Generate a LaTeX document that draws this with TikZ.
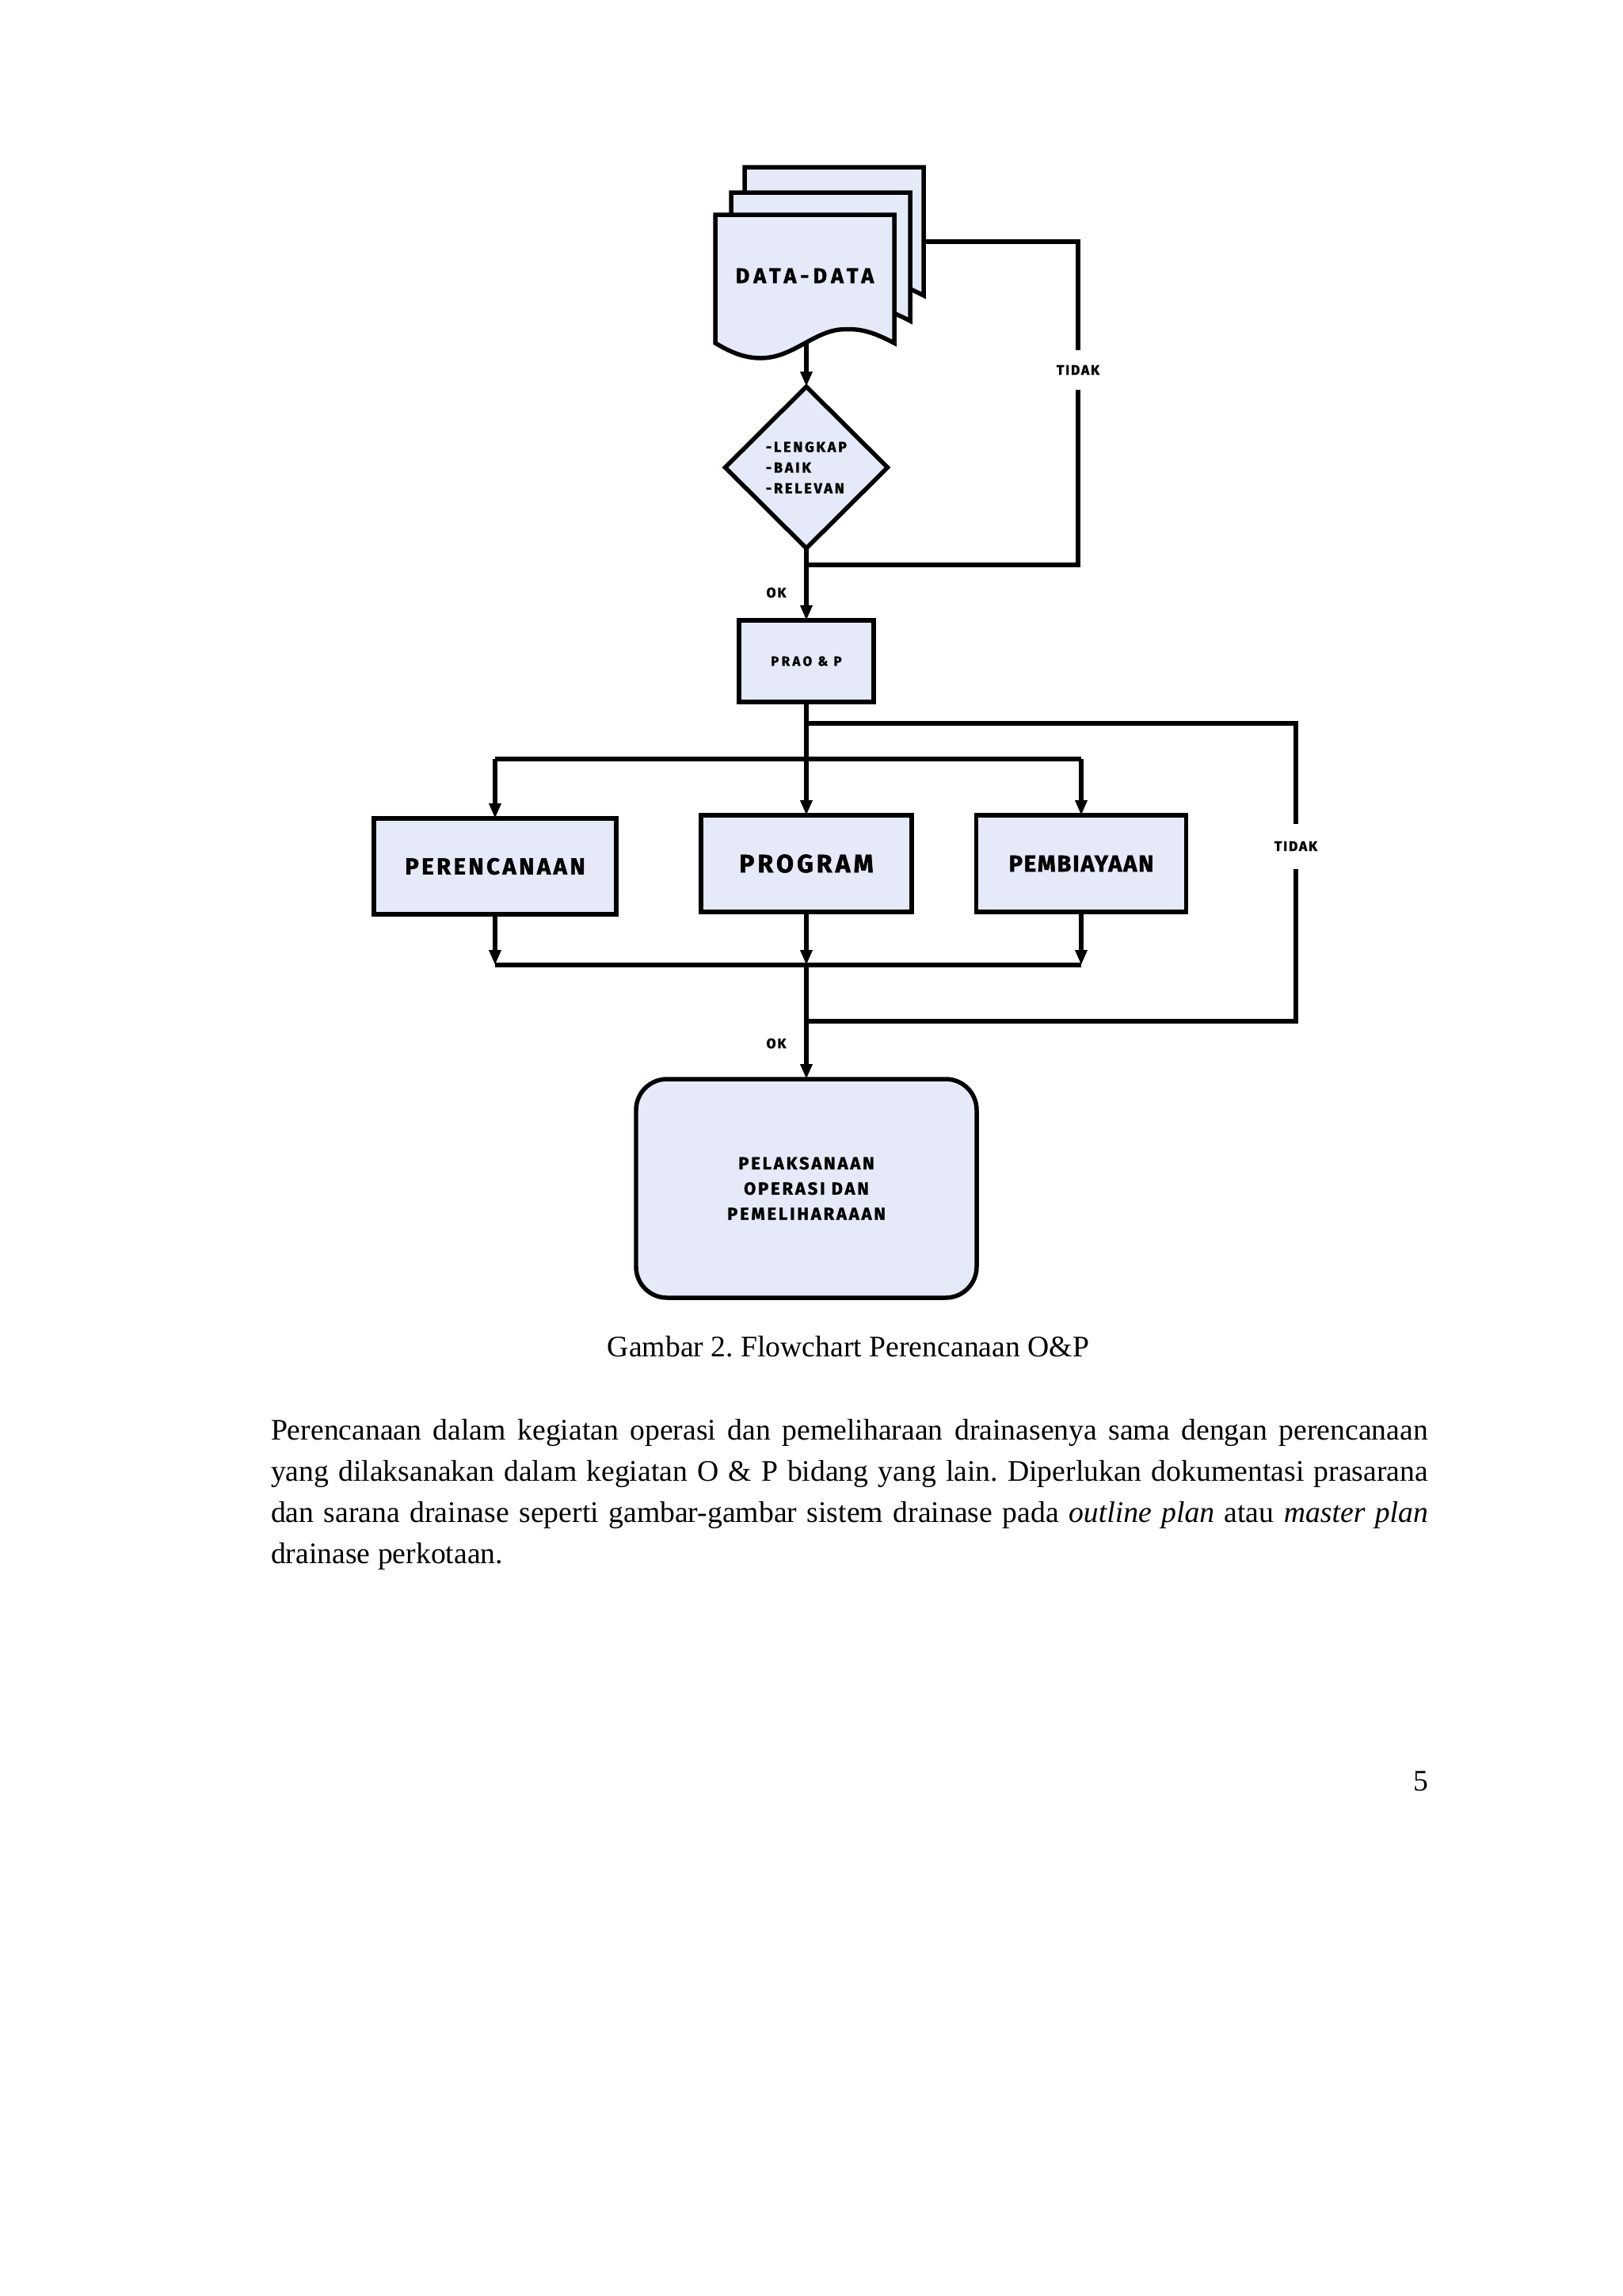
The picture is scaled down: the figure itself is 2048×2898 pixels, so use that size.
\documentclass[tikz,border=0pt]{standalone}
\usepackage{fontspec}
\setmainfont{Liberation Serif}
\newfontfamily\dfont{Fira Sans}
\usetikzlibrary{arrows.meta,shapes.geometric}
\definecolor{boxfill}{RGB}{229,233,248}
\def\pxu{0.10254mm}
\newcommand{\dfs}[3]{\dfont\bfseries\fontsize{#1}{#2}\selectfont\addfontfeature{LetterSpace=#3,FakeBold=1.5}}
\frenchspacing
\tikzset{
  bx/.style={draw, fill=boxfill, line width=1.6pt, inner sep=0pt, outer sep=0pt},
  con/.style={line width=1.5pt},
  arr/.style={con, -{Triangle[length=5.5pt,width=4.2pt]}},
  lbl/.style={inner sep=0pt, outer sep=0pt},
  small/.style={font={\dfs{5.1}{7.6}{10}}},
  body/.style={inner sep=0pt, outer sep=0pt, font={\fontsize{11}{13}\selectfont}},
}
\begin{document}
\begin{tikzpicture}[x=0.10254mm, y=-0.10254mm, line join=miter]
\useasboundingbox (0,0) rectangle (2048,2898);
\fill[white] (0,0) rectangle (2048,2898);

% stacked documents
\foreach \dx/\dy in {37/-60,20/-28,0/0}{
  \filldraw[fill=boxfill, draw=black, line width=1.6pt, shift={(\dx,\dy)}]
    (903,271) -- (1129,271) -- (1129,433)
    .. controls (1100,418) and (1085,414) .. (1060,416)
    .. controls (1025,420) and (1000,452) .. (960,452)
    .. controls (935,452) and (915,440) .. (903,433) -- cycle;
}
\node[lbl, minimum width=226*\pxu, minimum height=170*\pxu, font={\dfs{7.8}{9}{20}}] (data) at (1016,348) {DATA-DATA};
\coordinate (backr) at (1166,305);

% decision
\node[bx, diamond, minimum width=205*\pxu, minimum height=204*\pxu, align=left, font={\dfs{5.3}{7.6}{15}}] (dia) at (1018,590) {-LENGKAP\\-BAIK\\-RELEVAN};

% PRAO
\node[bx, minimum width=170*\pxu, minimum height=103*\pxu, font={\dfs{4.9}{6}{20}}] (prao) at (1018,834.5) {PRAO \& P};

% three boxes
\node[bx, minimum width=306*\pxu, minimum height=121*\pxu, font={\dfs{8.5}{10}{12}}] (per) at (625,1093.5) {PERENCANAAN};
\node[bx, minimum width=266*\pxu, minimum height=122*\pxu, font={\dfs{9.3}{11}{13}}] (prog) at (1018,1090) {PROGRAM};
\node[bx, minimum width=265*\pxu, minimum height=122*\pxu, font={\dfs{8.5}{10}{6}}] (pemb) at (1365,1090) {PEMBIAYAAN};

% final rounded box
\node[bx, rounded corners=4mm, minimum width=430*\pxu, minimum height=276*\pxu, align=center, font={\dfs{6.4}{9.3}{13}}] (pel) at (1018,1500) {PELAKSANAAN\\OPERASI DAN\\PEMELIHARAAAN};

% labels
\node[lbl, small, minimum height=50*\pxu] (tid1) at (1361,467) {TIDAK};
\node[lbl, small, minimum height=57*\pxu] (tid2) at (1636,1068) {TIDAK};
\node[lbl, small] (ok1) at (980,748) {OK};
\node[lbl, small] (ok2) at (980,1317) {OK};

% junction coordinates
\coordinate (j1) at (1018,713);
\coordinate (j2) at (1018,913);
\coordinate (j3) at (1018,1289);
\coordinate (bl) at (625,958);
\coordinate (br) at (1365,958);
\coordinate (ml) at (625,1218);
\coordinate (mc) at (1018,1218);
\coordinate (mr) at (1365,1218);

% connectors
\draw[arr] (data.south -| dia.north) -- (dia.north);
\draw[con] (backr) -| (tid1.north);
\draw[con] (tid1.south) |- (j1);
\draw[arr] (dia.south) -- (prao.north);
\draw[arr] (prao.south) -- (prog.north);
\draw[con] (bl) -- (br);
\draw[arr] (bl) -- (per.north);
\draw[arr] (br) -- (pemb.north);
\draw[con] (j2) -| (tid2.north);
\draw[con] (tid2.south) |- (j3);
\draw[arr] (per.south) -- (ml);
\draw[arr] (prog.south) -- (mc);
\draw[arr] (pemb.south) -- (mr);
\draw[con] (ml) -- (mr);
\draw[arr] (mc) -- (pel.north);

% caption and body text
\node[body, anchor=base] (cap) at (1071,1712) {Gambar 2. Flowchart Perencanaan O\&P};
\node[body, anchor=base west] (l1) at (342,1817) {\makebox[149.8mm][s]{Perencanaan dalam kegiatan operasi dan pemeliharaan drainasenya sama dengan perencanaan}};
\node[body, anchor=base west] (l2) at (342,1869) {\makebox[149.8mm][s]{yang dilaksanakan dalam kegiatan O \& P bidang yang lain. Diperlukan dokumentasi prasarana}};
\node[body, anchor=base west] (l3) at (342,1921) {\makebox[149.8mm][s]{dan sarana drainase seperti gambar-gambar sistem drainase pada \textit{outline plan} atau \textit{master plan}}};
\node[body, anchor=base west] (l4) at (342,1973) {drainase perkotaan.};
\node[body, anchor=base east] (pg) at (1803,2260) {5};
\end{tikzpicture}
\end{document}
